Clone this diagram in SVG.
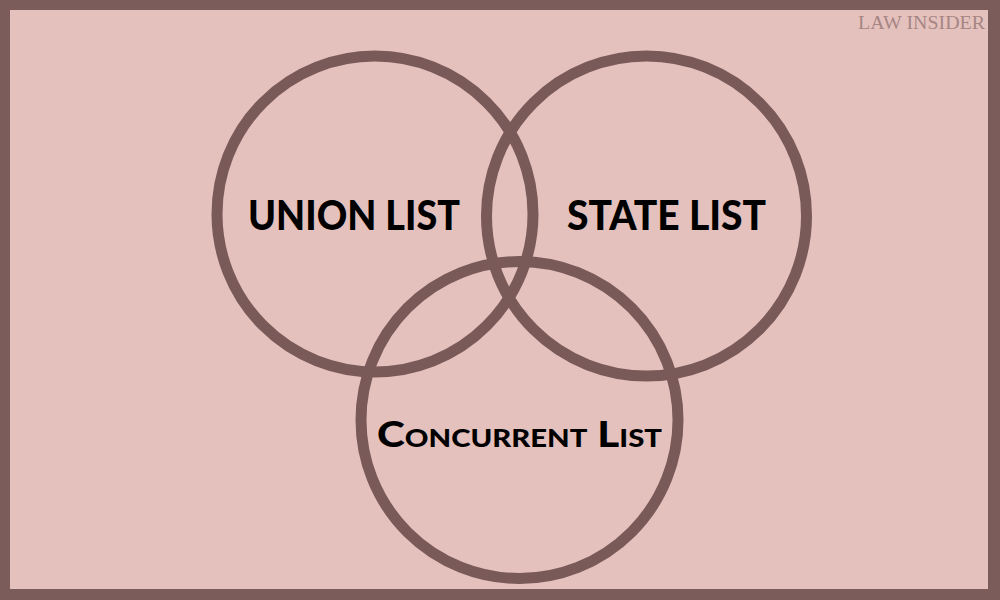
<svg xmlns="http://www.w3.org/2000/svg" width="1000" height="600" viewBox="0 0 1000 600">
  <style>
    .ring { fill: none; stroke: #7a5a59; stroke-width: 11; }
    .label { font-family: Lato, "Roboto", "Liberation Sans", sans-serif; font-weight: 900; fill: #000000; }
    .mark { font-family: "Liberation Serif", serif; fill: #a58684; font-size: 18px; }
  </style>
  <rect x="0" y="0" width="1000" height="600" fill="#7b5c5b"/>
  <rect x="10" y="10" width="978" height="579" fill="#e5c1bd"/>
  <text class="mark" x="858" y="29" textLength="127" lengthAdjust="spacingAndGlyphs">LAW INSIDER</text>
  <g id="connectors"></g>
  <g id="union">
    <circle class="ring" cx="375" cy="214" r="158"/>
    <text class="label" x="248" y="230" font-size="41" textLength="212" lengthAdjust="spacingAndGlyphs">UNION LIST</text>
  </g>
  <g id="state">
    <circle class="ring" cx="646.5" cy="216" r="160"/>
    <text class="label" x="567" y="230" font-size="41" textLength="199" lengthAdjust="spacingAndGlyphs">STATE LIST</text>
  </g>
  <g id="concurrent">
    <circle class="ring" cx="519.5" cy="420" r="158.5"/>
    <text class="label" x="377" y="447" font-size="36" font-variant="small-caps" textLength="285" lengthAdjust="spacingAndGlyphs">Concurrent List</text>
  </g>
</svg>
